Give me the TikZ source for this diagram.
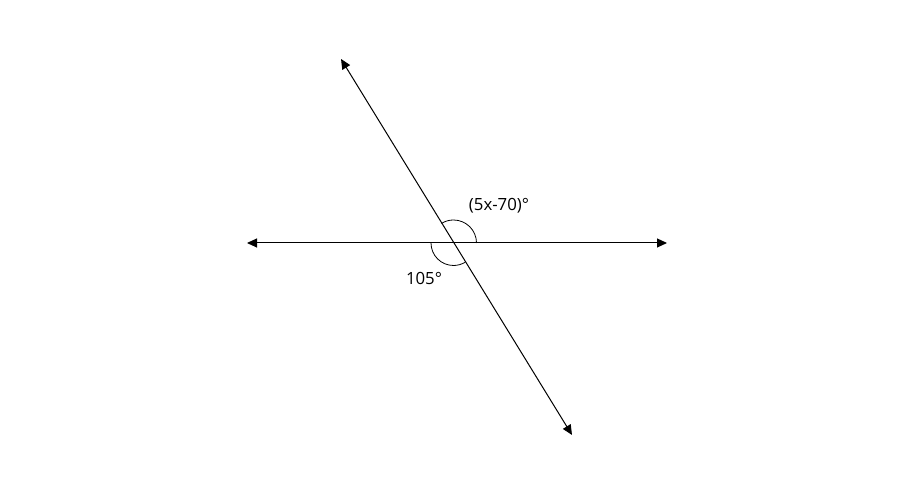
\documentclass[tikz,border=0pt]{standalone}
\usepackage{fontspec}
\setmainfont{Open Sans}
\usetikzlibrary{arrows.meta}
\begin{document}
\begin{tikzpicture}[x=1pt,y=1pt,
  ln/.style={line width=1pt,{Triangle[length=10pt,width=9pt]}-{Triangle[length=10pt,width=9pt]}},
  ang/.style={line width=0.8pt},
  lbl/.style={font=\fontsize{16.8}{20}\selectfont,inner sep=0pt}]
\useasboundingbox (0,0) rectangle (917,502);
\coordinate (O) at (453.5,259);
\coordinate (L) at (247,259);
\coordinate (R) at (667,259);
\coordinate (T) at (341,443);
\coordinate (B) at (572,67);
\draw[ln] (L) -- (R);
\draw[ln] (T) -- (B);
\draw[ang] ([xshift=23pt]O) arc[start angle=0,end angle=121.5,radius=23pt];
\draw[ang] ([xshift=-22.5pt]O) arc[start angle=180,end angle=301.5,radius=22.5pt];
\node[lbl] (a1) at (499,296) {(5x-70)°};
\node[lbl] (a2) at (424,224) {105°};
\end{tikzpicture}
\end{document}
